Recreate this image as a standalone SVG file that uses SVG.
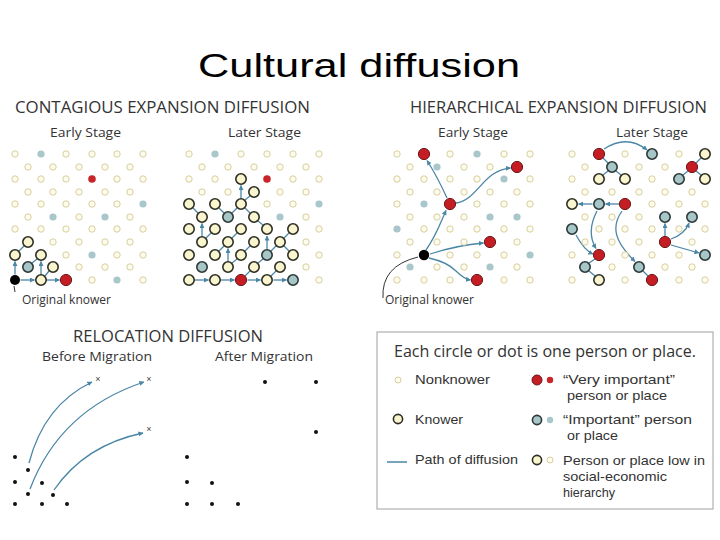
<svg xmlns="http://www.w3.org/2000/svg" width="720" height="540" viewBox="0 0 720 540">
<style>
.n{fill:#fdfbee;stroke:#d9cf9c;stroke-width:1}
.b{fill:#a9c6ca}
.r{fill:#c8252b}
.k{fill:#f8f5cf;stroke:#2e2e24;stroke-width:1.6}
.bk{fill:#a7c6c8;stroke:#2c3838;stroke-width:1.6}
.rk{fill:#c41e24;stroke:#6e1518;stroke-width:1}
.o{fill:#000}
.c{fill:none;stroke:#4a86a6;stroke-width:1.3}
.lead{fill:none;stroke:#333;stroke-width:1}
.h{font-family:"Open Sans","Liberation Sans",sans-serif;fill:#333;font-size:15.5px}
.s{font-family:"Open Sans","Liberation Sans",sans-serif;fill:#333;font-size:13px}
.l{font-family:"Liberation Sans",Arial,sans-serif;fill:#333;font-size:13.5px}
.d{fill:#111}
</style>
<defs>
<marker id="ah" viewBox="0 0 6 6" refX="5.5" refY="3" markerWidth="5" markerHeight="5" orient="auto" markerUnits="userSpaceOnUse"><path d="M0,0 L6,3 L0,6 z" fill="#4a86a6"/></marker>
</defs>
<rect width="720" height="540" fill="#fff"/>
<text x="198" y="77" font-family="Liberation Sans,Arial,sans-serif" font-size="33" textLength="322" lengthAdjust="spacingAndGlyphs" fill="#000">Cultural diffusion</text>

<g id="headings">
<text class="h" x="15" y="113" textLength="295" lengthAdjust="spacingAndGlyphs">CONTAGIOUS EXPANSION DIFFUSION</text>
<text class="h" x="410" y="113" textLength="297" lengthAdjust="spacingAndGlyphs">HIERARCHICAL EXPANSION DIFFUSION</text>
<text class="s" x="50" y="137" textLength="71" lengthAdjust="spacingAndGlyphs">Early Stage</text>
<text class="s" x="228" y="137" textLength="73" lengthAdjust="spacingAndGlyphs">Later Stage</text>
<text class="s" x="438" y="137" textLength="70" lengthAdjust="spacingAndGlyphs">Early Stage</text>
<text class="s" x="616" y="137" textLength="72" lengthAdjust="spacingAndGlyphs">Later Stage</text>
<text class="s" x="22" y="304" textLength="89" lengthAdjust="spacingAndGlyphs">Original knower</text>
<text class="s" x="385" y="304" textLength="89" lengthAdjust="spacingAndGlyphs">Original knower</text>
<text class="h" x="73" y="342" textLength="190" lengthAdjust="spacingAndGlyphs">RELOCATION DIFFUSION</text>
<text class="s" x="42" y="361" textLength="110" lengthAdjust="spacingAndGlyphs">Before Migration</text>
<text class="s" x="215" y="361" textLength="98" lengthAdjust="spacingAndGlyphs">After Migration</text>
</g>

<g id="connectors">
<!-- contagious early -->
<line class="c" x1="15" y1="274.5" x2="15" y2="261.5" marker-end="url(#ah)"/>
<line class="c" x1="20.5" y1="280" x2="34.5" y2="280" marker-end="url(#ah)"/>
<line class="c" x1="46.5" y1="280" x2="59.5" y2="280" marker-end="url(#ah)"/>
<line class="c" x1="41" y1="274.5" x2="41" y2="261.5" marker-end="url(#ah)"/>
<line class="c" x1="19" y1="251" x2="24" y2="246"/>
<line class="c" x1="37" y1="259" x2="32" y2="263"/>
<line class="c" x1="45" y1="276" x2="49" y2="271"/>
<line class="lead" x1="15" y1="292" x2="14" y2="286"/>
<!-- contagious later -->
<line class="c" x1="241" y1="198.5" x2="241" y2="185.5" marker-end="url(#ah)"/>
<line class="c" x1="250" y1="196" x2="245" y2="200"/>
<line class="c" x1="193" y1="208" x2="198" y2="213"/>
<line class="c" x1="219" y1="208" x2="224" y2="213"/>
<line class="c" x1="237" y1="208" x2="232" y2="213"/>
<line class="c" x1="245" y1="208" x2="250" y2="213"/>
<line class="c" x1="258" y1="221" x2="263" y2="225"/>
<line class="c" x1="202" y1="236" x2="202" y2="223.5" marker-end="url(#ah)"/>
<line class="c" x1="211" y1="233" x2="206" y2="238"/>
<line class="c" x1="237" y1="233" x2="232" y2="238"/>
<line class="c" x1="289" y1="233" x2="284" y2="238"/>
<line class="c" x1="224" y1="246" x2="219" y2="251"/>
<line class="c" x1="250" y1="246" x2="245" y2="251"/>
<line class="c" x1="267" y1="249" x2="267" y2="236" marker-end="url(#ah)"/>
<line class="c" x1="284" y1="246" x2="289" y2="251"/>
<line class="c" x1="276" y1="246" x2="271" y2="251"/>
<line class="c" x1="228" y1="261" x2="228" y2="248.5" marker-end="url(#ah)"/>
<line class="c" x1="237" y1="259" x2="232" y2="263"/>
<line class="c" x1="263" y1="259" x2="258" y2="263"/>
<line class="c" x1="250" y1="271" x2="245" y2="276"/>
<line class="c" x1="276" y1="271" x2="271" y2="276"/>
<line class="c" x1="194.5" y1="280" x2="208.5" y2="280" marker-end="url(#ah)"/>
<line class="c" x1="220.5" y1="280" x2="234.5" y2="280" marker-end="url(#ah)"/>
<line class="c" x1="247.5" y1="280" x2="260.5" y2="280" marker-end="url(#ah)"/>
<line class="c" x1="273.5" y1="280" x2="286.5" y2="280" marker-end="url(#ah)"/>
<!-- hierarchical early -->
<path class="c" d="M426,250 C436,236 440,224 446,210.5" marker-end="url(#ah)"/>
<path class="c" d="M447,198 Q437,176 427,160.5" marker-end="url(#ah)"/>
<path class="c" d="M456,203 C478,200 483,170 510.5,168" marker-end="url(#ah)"/>
<path class="c" d="M430,254 Q458,245 483.5,243" marker-end="url(#ah)"/>
<path class="c" d="M429,258 Q447,262 456,271 Q464,279 470.5,280" marker-end="url(#ah)"/>
<path class="lead" d="M383,298 Q381,266 418,257"/>
<!-- hierarchical later -->
<path class="c" d="M604,149 Q627,134 647,150" marker-end="url(#ah)"/>
<line class="c" x1="603" y1="158" x2="608" y2="163"/>
<line class="c" x1="608" y1="171" x2="603" y2="175"/>
<line class="c" x1="616" y1="171" x2="621" y2="175"/>
<line class="c" x1="696" y1="163" x2="701" y2="158"/>
<line class="c" x1="688" y1="171" x2="683" y2="175"/>
<line class="c" x1="696" y1="171" x2="701" y2="175"/>
<line class="c" x1="619" y1="204" x2="605.5" y2="204" marker-end="url(#ah)"/>
<line class="c" x1="592.5" y1="204" x2="578.5" y2="204" marker-end="url(#ah)"/>
<path class="c" d="M597,211 Q586,232 596,248.5" marker-end="url(#ah)"/>
<path class="c" d="M576,235 Q584,250 593,254" marker-end="url(#ah)"/>
<line class="c" x1="595" y1="259" x2="589" y2="263"/>
<line class="c" x1="589" y1="271" x2="595" y2="276"/>
<path class="c" d="M622,211 C610,228 616,243 635,261.5" marker-end="url(#ah)"/>
<line class="c" x1="643" y1="271" x2="648" y2="276"/>
<line class="c" x1="665" y1="236" x2="665" y2="223.5" marker-end="url(#ah)"/>
<path class="c" d="M671,239 Q685,234 689,223" marker-end="url(#ah)"/>
<line class="c" x1="671" y1="245" x2="699" y2="253" marker-end="url(#ah)"/>
<!-- relocation -->
<path class="c" d="M29,463 Q44,405 92,382" marker-end="url(#ah)"/>
<path class="c" d="M30,489 Q60,410 144,382" marker-end="url(#ah)"/>
<path class="c" d="M54,490 Q85,445 143,433" marker-end="url(#ah)"/>
</g>

<g id="contagious-early">
<circle class="n" cx="15" cy="154" r="3.2"/><circle class="b" cx="41" cy="154" r="3.6"/><circle class="n" cx="66" cy="154" r="3.2"/><circle class="n" cx="92" cy="154" r="3.2"/><circle class="n" cx="117" cy="154" r="3.2"/><circle class="n" cx="143" cy="154" r="3.2"/>
<circle class="n" cx="28" cy="167" r="3.2"/><circle class="n" cx="53" cy="167" r="3.2"/><circle class="n" cx="79" cy="167" r="3.2"/><circle class="n" cx="105" cy="167" r="3.2"/><circle class="n" cx="130" cy="167" r="3.2"/>
<circle class="n" cx="15" cy="179" r="3.2"/><circle class="n" cx="41" cy="179" r="3.2"/><circle class="n" cx="66" cy="179" r="3.2"/><circle class="r" cx="92" cy="179" r="3.8"/><circle class="n" cx="117" cy="179" r="3.2"/><circle class="n" cx="143" cy="179" r="3.2"/>
<circle class="n" cx="28" cy="192" r="3.2"/><circle class="n" cx="53" cy="192" r="3.2"/><circle class="n" cx="79" cy="192" r="3.2"/><circle class="n" cx="105" cy="192" r="3.2"/><circle class="n" cx="130" cy="192" r="3.2"/>
<circle class="n" cx="15" cy="204" r="3.2"/><circle class="n" cx="41" cy="204" r="3.2"/><circle class="n" cx="66" cy="204" r="3.2"/><circle class="n" cx="92" cy="204" r="3.2"/><circle class="n" cx="117" cy="204" r="3.2"/><circle class="b" cx="143" cy="204" r="3.6"/>
<circle class="n" cx="28" cy="217" r="3.2"/><circle class="b" cx="53" cy="217" r="3.6"/><circle class="n" cx="79" cy="217" r="3.2"/><circle class="b" cx="105" cy="217" r="3.6"/><circle class="n" cx="130" cy="217" r="3.2"/>
<circle class="n" cx="15" cy="229" r="3.2"/><circle class="n" cx="41" cy="229" r="3.2"/><circle class="n" cx="66" cy="229" r="3.2"/><circle class="n" cx="92" cy="229" r="3.2"/><circle class="n" cx="117" cy="229" r="3.2"/><circle class="n" cx="143" cy="229" r="3.2"/>
<circle class="k" cx="28" cy="242" r="5.2"/><circle class="n" cx="53" cy="242" r="3.2"/><circle class="n" cx="79" cy="242" r="3.2"/><circle class="n" cx="105" cy="242" r="3.2"/><circle class="n" cx="130" cy="242" r="3.2"/>
<circle class="k" cx="15" cy="255" r="5.2"/><circle class="k" cx="41" cy="255" r="5.2"/><circle class="n" cx="66" cy="255" r="3.2"/><circle class="b" cx="92" cy="255" r="3.6"/><circle class="n" cx="117" cy="255" r="3.2"/><circle class="n" cx="143" cy="255" r="3.2"/>
<circle class="bk" cx="28" cy="267" r="5.2"/><circle class="k" cx="53" cy="267" r="5.2"/><circle class="n" cx="79" cy="267" r="3.2"/><circle class="n" cx="105" cy="267" r="3.2"/><circle class="n" cx="130" cy="267" r="3.2"/>
<circle class="o" cx="15" cy="280" r="5"/><circle class="k" cx="41" cy="280" r="5.2"/><circle class="rk" cx="66" cy="280" r="5.6"/><circle class="n" cx="92" cy="280" r="3.2"/><circle class="b" cx="117" cy="280" r="3.6"/><circle class="n" cx="143" cy="280" r="3.2"/>
</g>

<g id="contagious-later">
<circle class="n" cx="189" cy="154" r="3.2"/><circle class="b" cx="215" cy="154" r="3.6"/><circle class="n" cx="241" cy="154" r="3.2"/><circle class="n" cx="267" cy="154" r="3.2"/><circle class="n" cx="293" cy="154" r="3.2"/><circle class="n" cx="319" cy="154" r="3.2"/>
<circle class="n" cx="202" cy="167" r="3.2"/><circle class="n" cx="228" cy="167" r="3.2"/><circle class="n" cx="254" cy="167" r="3.2"/><circle class="n" cx="280" cy="167" r="3.2"/><circle class="n" cx="306" cy="167" r="3.2"/>
<circle class="n" cx="189" cy="179" r="3.2"/><circle class="n" cx="215" cy="179" r="3.2"/><circle class="k" cx="241" cy="179" r="5.2"/><circle class="r" cx="267" cy="179" r="3.8"/><circle class="n" cx="293" cy="179" r="3.2"/><circle class="n" cx="319" cy="179" r="3.2"/>
<circle class="n" cx="202" cy="192" r="3.2"/><circle class="n" cx="228" cy="192" r="3.2"/><circle class="k" cx="254" cy="192" r="5.2"/><circle class="n" cx="280" cy="192" r="3.2"/><circle class="n" cx="306" cy="192" r="3.2"/>
<circle class="k" cx="189" cy="204" r="5.2"/><circle class="k" cx="215" cy="204" r="5.2"/><circle class="k" cx="241" cy="204" r="5.2"/><circle class="n" cx="267" cy="204" r="3.2"/><circle class="n" cx="293" cy="204" r="3.2"/><circle class="b" cx="319" cy="204" r="3.6"/>
<circle class="k" cx="202" cy="217" r="5.2"/><circle class="bk" cx="228" cy="217" r="5.2"/><circle class="k" cx="254" cy="217" r="5.2"/><circle class="b" cx="280" cy="217" r="3.6"/><circle class="n" cx="306" cy="217" r="3.2"/>
<circle class="k" cx="189" cy="229" r="5.2"/><circle class="k" cx="215" cy="229" r="5.2"/><circle class="k" cx="241" cy="229" r="5.2"/><circle class="k" cx="267" cy="229" r="5.2"/><circle class="k" cx="293" cy="229" r="5.2"/><circle class="n" cx="319" cy="229" r="3.2"/>
<circle class="k" cx="202" cy="242" r="5.2"/><circle class="k" cx="228" cy="242" r="5.2"/><circle class="k" cx="254" cy="242" r="5.2"/><circle class="k" cx="280" cy="242" r="5.2"/><circle class="n" cx="306" cy="242" r="3.2"/>
<circle class="k" cx="189" cy="255" r="5.2"/><circle class="k" cx="215" cy="255" r="5.2"/><circle class="k" cx="241" cy="255" r="5.2"/><circle class="bk" cx="267" cy="255" r="5.2"/><circle class="k" cx="293" cy="255" r="5.2"/><circle class="n" cx="319" cy="255" r="3.2"/>
<circle class="bk" cx="202" cy="267" r="5.2"/><circle class="k" cx="228" cy="267" r="5.2"/><circle class="k" cx="254" cy="267" r="5.2"/><circle class="k" cx="280" cy="267" r="5.2"/><circle class="n" cx="306" cy="267" r="3.2"/>
<circle class="k" cx="189" cy="280" r="5.2"/><circle class="k" cx="215" cy="280" r="5.2"/><circle class="rk" cx="241" cy="280" r="5.6"/><circle class="k" cx="267" cy="280" r="5.2"/><circle class="bk" cx="293" cy="280" r="5.2"/><circle class="n" cx="319" cy="280" r="3.2"/>
</g>

<g id="hierarchical-early">
<circle class="n" cx="397" cy="154" r="3.2"/><circle class="rk" cx="424" cy="154" r="5.6"/><circle class="n" cx="450" cy="154" r="3.2"/><circle class="b" cx="477" cy="154" r="3.6"/><circle class="n" cx="504" cy="154" r="3.2"/><circle class="n" cx="530" cy="154" r="3.2"/>
<circle class="n" cx="410" cy="167" r="3.2"/><circle class="b" cx="437" cy="167" r="3.6"/><circle class="n" cx="464" cy="167" r="3.2"/><circle class="n" cx="490" cy="167" r="3.2"/><circle class="rk" cx="517" cy="167" r="5.6"/>
<circle class="n" cx="397" cy="179" r="3.2"/><circle class="n" cx="424" cy="179" r="3.2"/><circle class="n" cx="450" cy="179" r="3.2"/><circle class="n" cx="477" cy="179" r="3.2"/><circle class="b" cx="504" cy="179" r="3.6"/><circle class="n" cx="530" cy="179" r="3.2"/>
<circle class="n" cx="410" cy="192" r="3.2"/><circle class="n" cx="437" cy="192" r="3.2"/><circle class="n" cx="464" cy="192" r="3.2"/><circle class="n" cx="490" cy="192" r="3.2"/><circle class="n" cx="517" cy="192" r="3.2"/>
<circle class="n" cx="397" cy="204" r="3.2"/><circle class="b" cx="424" cy="204" r="3.6"/><circle class="rk" cx="450" cy="204" r="5.6"/><circle class="n" cx="477" cy="204" r="3.2"/><circle class="n" cx="504" cy="204" r="3.2"/><circle class="n" cx="530" cy="204" r="3.2"/>
<circle class="n" cx="410" cy="217" r="3.2"/><circle class="n" cx="437" cy="217" r="3.2"/><circle class="n" cx="464" cy="217" r="3.2"/><circle class="b" cx="490" cy="217" r="3.6"/><circle class="b" cx="517" cy="217" r="3.6"/>
<circle class="b" cx="397" cy="229" r="3.6"/><circle class="n" cx="424" cy="229" r="3.2"/><circle class="n" cx="450" cy="229" r="3.2"/><circle class="n" cx="477" cy="229" r="3.2"/><circle class="n" cx="504" cy="229" r="3.2"/><circle class="n" cx="530" cy="229" r="3.2"/>
<circle class="n" cx="410" cy="242" r="3.2"/><circle class="n" cx="437" cy="242" r="3.2"/><circle class="n" cx="464" cy="242" r="3.2"/><circle class="rk" cx="490" cy="242" r="5.6"/><circle class="n" cx="517" cy="242" r="3.2"/>
<circle class="n" cx="397" cy="255" r="3.2"/><circle class="o" cx="424" cy="255" r="5.2"/><circle class="n" cx="450" cy="255" r="3.2"/><circle class="n" cx="477" cy="255" r="3.2"/><circle class="n" cx="504" cy="255" r="3.2"/><circle class="b" cx="530" cy="255" r="3.6"/>
<circle class="b" cx="410" cy="267" r="3.6"/><circle class="n" cx="437" cy="267" r="3.2"/><circle class="n" cx="464" cy="267" r="3.2"/><circle class="b" cx="490" cy="267" r="3.6"/><circle class="n" cx="517" cy="267" r="3.2"/>
<circle class="n" cx="397" cy="280" r="3.2"/><circle class="n" cx="424" cy="280" r="3.2"/><circle class="n" cx="450" cy="280" r="3.2"/><circle class="rk" cx="477" cy="280" r="5.6"/><circle class="n" cx="504" cy="280" r="3.2"/><circle class="n" cx="530" cy="280" r="3.2"/>
</g>

<g id="hierarchical-later">
<circle class="n" cx="572" cy="154" r="3.2"/><circle class="rk" cx="599" cy="154" r="5.6"/><circle class="n" cx="625" cy="154" r="3.2"/><circle class="bk" cx="652" cy="154" r="5.2"/><circle class="n" cx="679" cy="154" r="3.2"/><circle class="k" cx="705" cy="154" r="5.2"/>
<circle class="n" cx="585" cy="167" r="3.2"/><circle class="bk" cx="612" cy="167" r="5.2"/><circle class="n" cx="639" cy="167" r="3.2"/><circle class="n" cx="665" cy="167" r="3.2"/><circle class="rk" cx="692" cy="167" r="5.6"/>
<circle class="n" cx="572" cy="179" r="3.2"/><circle class="k" cx="599" cy="179" r="5.2"/><circle class="k" cx="625" cy="179" r="5.2"/><circle class="n" cx="652" cy="179" r="3.2"/><circle class="bk" cx="679" cy="179" r="5.2"/><circle class="k" cx="705" cy="179" r="5.2"/>
<circle class="n" cx="585" cy="192" r="3.2"/><circle class="n" cx="612" cy="192" r="3.2"/><circle class="n" cx="639" cy="192" r="3.2"/><circle class="n" cx="665" cy="192" r="3.2"/><circle class="n" cx="692" cy="192" r="3.2"/>
<circle class="k" cx="572" cy="204" r="5.2"/><circle class="bk" cx="599" cy="204" r="5.2"/><circle class="rk" cx="625" cy="204" r="5.6"/><circle class="n" cx="652" cy="204" r="3.2"/><circle class="n" cx="679" cy="204" r="3.2"/><circle class="n" cx="705" cy="204" r="3.2"/>
<circle class="n" cx="585" cy="217" r="3.2"/><circle class="n" cx="612" cy="217" r="3.2"/><circle class="n" cx="639" cy="217" r="3.2"/><circle class="bk" cx="665" cy="217" r="5.2"/><circle class="bk" cx="692" cy="217" r="5.2"/>
<circle class="bk" cx="572" cy="229" r="5.2"/><circle class="n" cx="599" cy="229" r="3.2"/><circle class="n" cx="625" cy="229" r="3.2"/><circle class="n" cx="652" cy="229" r="3.2"/><circle class="n" cx="679" cy="229" r="3.2"/><circle class="n" cx="705" cy="229" r="3.2"/>
<circle class="n" cx="585" cy="242" r="3.2"/><circle class="n" cx="612" cy="242" r="3.2"/><circle class="n" cx="639" cy="242" r="3.2"/><circle class="rk" cx="665" cy="242" r="5.6"/><circle class="n" cx="692" cy="242" r="3.2"/>
<circle class="n" cx="572" cy="255" r="3.2"/><circle class="rk" cx="599" cy="255" r="5.6"/><circle class="n" cx="625" cy="255" r="3.2"/><circle class="n" cx="652" cy="255" r="3.2"/><circle class="n" cx="679" cy="255" r="3.2"/><circle class="bk" cx="705" cy="255" r="5.2"/>
<circle class="bk" cx="585" cy="267" r="5.2"/><circle class="n" cx="612" cy="267" r="3.2"/><circle class="bk" cx="639" cy="267" r="5.2"/><circle class="n" cx="665" cy="267" r="3.2"/><circle class="n" cx="692" cy="267" r="3.2"/>
<circle class="n" cx="572" cy="280" r="3.2"/><circle class="k" cx="599" cy="280" r="5.2"/><circle class="n" cx="625" cy="280" r="3.2"/><circle class="rk" cx="652" cy="280" r="5.6"/><circle class="n" cx="679" cy="280" r="3.2"/><circle class="n" cx="705" cy="280" r="3.2"/>
</g>

<g id="relocation-before">
<circle class="d" cx="15" cy="457" r="2"/><circle class="d" cx="28" cy="470" r="2"/><circle class="d" cx="15" cy="482" r="2"/><circle class="d" cx="42" cy="483" r="2"/><circle class="d" cx="28" cy="494" r="2"/><circle class="d" cx="53" cy="495" r="2"/><circle class="d" cx="15" cy="504" r="2"/><circle class="d" cx="42" cy="504" r="2"/><circle class="d" cx="67" cy="504" r="2"/>
<text x="98" y="382" font-family="Liberation Sans,sans-serif" font-size="9" fill="#444" text-anchor="middle">×</text>
<text x="149" y="382" font-family="Liberation Sans,sans-serif" font-size="9" fill="#444" text-anchor="middle">×</text>
<text x="149" y="432" font-family="Liberation Sans,sans-serif" font-size="9" fill="#444" text-anchor="middle">×</text>
</g>

<g id="relocation-after">
<circle class="d" cx="265" cy="382" r="2"/><circle class="d" cx="316" cy="382" r="2"/><circle class="d" cx="316" cy="432" r="2"/><circle class="d" cx="187" cy="457" r="2"/><circle class="d" cx="187" cy="482" r="2"/><circle class="d" cx="212" cy="483" r="2"/><circle class="d" cx="187" cy="504" r="2"/><circle class="d" cx="212" cy="504" r="2"/><circle class="d" cx="238" cy="504" r="2"/>
</g>

<g id="legend">
<rect x="377" y="332" width="336" height="177" fill="#fff" stroke="#a0a0a0" stroke-width="1"/>
<text class="h" x="394" y="357" textLength="302" lengthAdjust="spacingAndGlyphs">Each circle or dot is one person or place.</text>
<circle class="n" cx="398" cy="380" r="3"/>
<text class="l" x="415" y="384" textLength="75" lengthAdjust="spacingAndGlyphs">Nonknower</text>
<circle class="k" cx="398" cy="419" r="4.6"/>
<text class="l" x="415" y="424" textLength="48" lengthAdjust="spacingAndGlyphs">Knower</text>
<line x1="387" y1="462" x2="407" y2="462" stroke="#4a86a6" stroke-width="1.5"/>
<text class="l" x="415" y="464" textLength="103" lengthAdjust="spacingAndGlyphs">Path of diffusion</text>
<circle class="rk" cx="537" cy="380" r="5"/><circle class="r" cx="550" cy="380" r="3.2"/>
<text class="l" x="563" y="384" textLength="112" lengthAdjust="spacingAndGlyphs">“Very important”</text>
<text class="l" x="567" y="400" textLength="100" lengthAdjust="spacingAndGlyphs">person or place</text>
<circle class="bk" cx="537" cy="420" r="4.6"/><circle class="b" cx="550" cy="420" r="3.2"/>
<text class="l" x="563" y="424" textLength="129" lengthAdjust="spacingAndGlyphs">“Important” person</text>
<text class="l" x="567" y="440" textLength="51" lengthAdjust="spacingAndGlyphs">or place</text>
<circle class="k" cx="537" cy="460" r="4.6"/><circle class="n" cx="550" cy="460" r="3"/>
<text class="l" x="563" y="465" textLength="142" lengthAdjust="spacingAndGlyphs">Person or place low in</text>
<text class="l" x="563" y="481" textLength="104" lengthAdjust="spacingAndGlyphs">social-economic</text>
<text class="l" x="563" y="497" textLength="52" lengthAdjust="spacingAndGlyphs">hierarchy</text>
</g>
</svg>
